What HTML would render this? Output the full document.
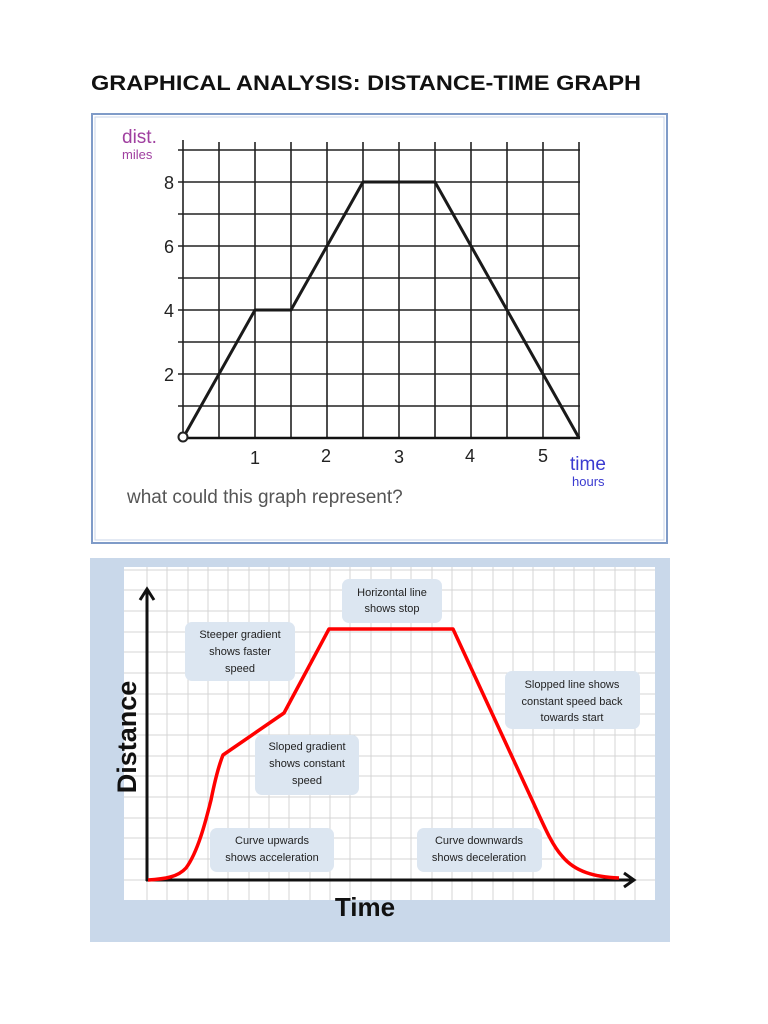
<!DOCTYPE html>
<html><head><meta charset="utf-8"><style>html,body{margin:0;padding:0;background:#fff}svg{display:block}</style></head><body>
<svg width="768" height="1024" viewBox="0 0 768 1024" xmlns="http://www.w3.org/2000/svg" font-family="Liberation Sans, sans-serif">
<rect width="768" height="1024" fill="#fff"/>
<text x="91" y="90" font-size="21" font-weight="bold" fill="#111" textLength="550" lengthAdjust="spacingAndGlyphs">GRAPHICAL ANALYSIS: DISTANCE-TIME GRAPH</text>
<!-- top frame -->
<rect x="92" y="114" width="575" height="429" fill="#fff" stroke="#7f9bc8" stroke-width="2"/>
<rect x="95" y="117" width="569" height="423" fill="none" stroke="#c9d5e8" stroke-width="1"/>
<g stroke="#222" stroke-width="1.6">
<line x1="183" y1="140" x2="183" y2="438"/>
<line x1="219" y1="142" x2="219" y2="438"/><line x1="255" y1="142" x2="255" y2="438"/><line x1="291" y1="142" x2="291" y2="438"/><line x1="327" y1="142" x2="327" y2="438"/><line x1="363" y1="142" x2="363" y2="438"/><line x1="399" y1="142" x2="399" y2="438"/><line x1="435" y1="142" x2="435" y2="438"/><line x1="471" y1="142" x2="471" y2="438"/><line x1="507" y1="142" x2="507" y2="438"/><line x1="543" y1="142" x2="543" y2="438"/><line x1="579" y1="142" x2="579" y2="438"/>
<line x1="178" y1="150" x2="580" y2="150"/><line x1="178" y1="182" x2="580" y2="182"/><line x1="178" y1="214" x2="580" y2="214"/><line x1="178" y1="246" x2="580" y2="246"/><line x1="178" y1="278" x2="580" y2="278"/><line x1="178" y1="310" x2="580" y2="310"/><line x1="178" y1="342" x2="580" y2="342"/><line x1="178" y1="374" x2="580" y2="374"/><line x1="178" y1="406" x2="580" y2="406"/>
</g>
<line x1="183" y1="438" x2="580" y2="438" stroke="#111" stroke-width="2.5"/>
<polyline points="183,438 255,310 291,310 363,182 435,182 579,438" fill="none" stroke="#1a1a1a" stroke-width="3" stroke-linejoin="round"/>
<circle cx="183" cy="437" r="4.5" fill="#fff" stroke="#222" stroke-width="2"/>
<g font-size="18" fill="#222" text-anchor="end">
<text x="174" y="189">8</text><text x="174" y="253">6</text><text x="174" y="317">4</text><text x="174" y="381">2</text></g>
<g font-size="18" fill="#222" text-anchor="middle">
<text x="255" y="464">1</text><text x="326" y="462">2</text><text x="399" y="463">3</text><text x="470" y="462">4</text><text x="543" y="462">5</text></g>
<text x="122" y="143" font-size="19" fill="#a040a0">dist.</text>
<text x="122" y="159" font-size="13" fill="#a040a0">miles</text>
<text x="570" y="470" font-size="19" fill="#3a3ad0">time</text>
<text x="572" y="486" font-size="13" fill="#3a3ad0">hours</text>
<text x="127" y="503" font-size="19" fill="#555">what could this graph represent?</text>
<!-- bottom -->
<rect x="90" y="558" width="580" height="384" fill="#c9d8ea"/>
<rect x="124" y="567" width="531" height="333" fill="#fff"/>
<g stroke="#d4d4d4" stroke-width="1">
<path d="M147 567V900M167 567V900M188 567V900M208 567V900M228 567V900M249 567V900M269 567V900M289 567V900M310 567V900M330 567V900M350 567V900M371 567V900M391 567V900M411 567V900M432 567V900M452 567V900M472 567V900M493 567V900M513 567V900M533 567V900M554 567V900M574 567V900M594 567V900M615 567V900M635 567V900"/>
<path d="M124 570H655M124 590H655M124 611H655M124 632H655M124 652H655M124 673H655M124 694H655M124 714H655M124 735H655M124 756H655M124 776H655M124 797H655M124 818H655M124 838H655M124 859H655M124 880H655"/>
</g>
<g fill="#dce6f1">
<rect x="342" y="579" width="100" height="44" rx="7"/>
<rect x="185" y="622" width="110" height="59" rx="7"/>
<rect x="255" y="735" width="104" height="60" rx="7"/>
<rect x="505" y="671" width="135" height="58" rx="7"/>
<rect x="210" y="828" width="124" height="44" rx="7"/>
<rect x="417" y="828" width="125" height="44" rx="7"/>
</g>
<g font-size="11" fill="#222" text-anchor="middle">
<text x="392" y="596">Horizontal line</text><text x="392" y="612">shows stop</text>
<text x="240" y="638">Steeper gradient</text><text x="240" y="655">shows faster</text><text x="240" y="672">speed</text>
<text x="307" y="750">Sloped gradient</text><text x="307" y="767">shows constant</text><text x="307" y="784">speed</text>
<text x="572" y="688">Slopped line shows</text><text x="572" y="705">constant speed back</text><text x="572" y="721">towards start</text>
<text x="272" y="844">Curve upwards</text><text x="272" y="861">shows acceleration</text>
<text x="479" y="844">Curve downwards</text><text x="479" y="861">shows deceleration</text>
</g>
<g stroke="#111" stroke-width="3" fill="none">
<line x1="147" y1="590" x2="147" y2="881"/>
<line x1="146" y1="880" x2="633" y2="880"/>
<polyline points="140,600 147,589 154,600"/>
<polyline points="624,873 634,880 624,887"/>
</g>
<path d="M148,880 C165,879 178,877 186,868 C198,852 206,820 211,800 C215,780 219,765 223,755 L284,713 L329,629 L453,629 L533,802 C544,826 552,845 562,856 C575,872 595,877 619,878" fill="none" stroke="#f00" stroke-width="3.5" stroke-linejoin="round"/>
<text transform="translate(136,737) rotate(-90)" font-size="27" font-weight="bold" fill="#111" text-anchor="middle">Distance</text>
<text x="365" y="916" font-size="26" font-weight="bold" fill="#111" text-anchor="middle">Time</text>
</svg>
</body></html>
